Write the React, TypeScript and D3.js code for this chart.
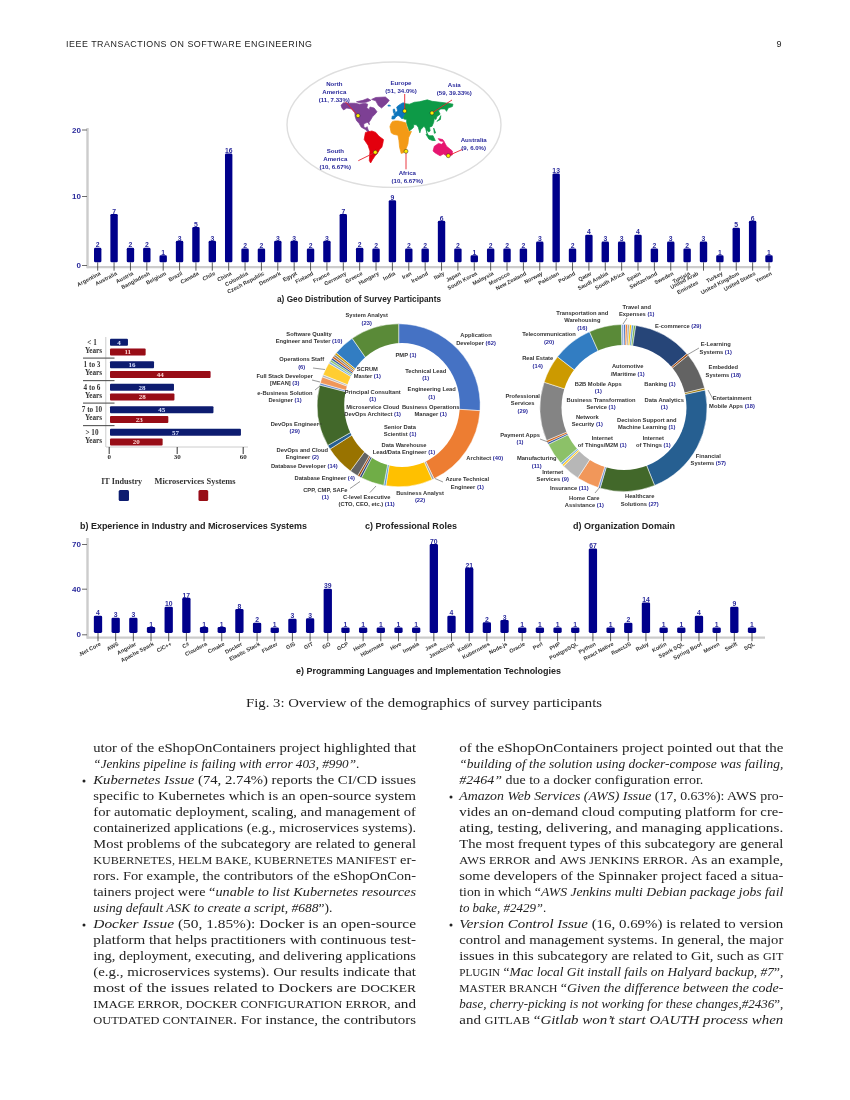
import { useEffect, useRef } from 'react';

import * as d3 from 'd3';

const sans = '"Liberation Sans", Arial, sans-serif';
const serif = '"Liberation Serif", serif';
const navy = '#00008b';
const inkBlue = '#2a2a9c';
const inkDark = '#333333';
const axisGray = '#cccccc';

// a) geo distribution
const countries = ['Argentina', 'Australia', 'Austria', 'Bangladesh', 'Belgium', 'Brazil', 'Canada', 'Chile', 'China', 'Colombia', 'Czech Republic', 'Denmark', 'Egypt', 'Finland', 'France', 'Germany', 'Greece', 'Hungary', 'India', 'Iran', 'Ireland', 'Italy', 'Japan', 'South Korea', 'Malaysia', 'Morocco', 'New Zealand', 'Norway', 'Pakistan', 'Poland', 'Qatar', 'Saudi Arabia', 'South Africa', 'Spain', 'Switzerland', 'Sweden', 'Tunisia', 'United Arab|Emirates', 'Turkey', 'United Kingdom', 'United States', 'Yemen'];
const countryCounts = [2, 7, 2, 2, 1, 3, 5, 3, 16, 2, 2, 3, 3, 2, 3, 7, 2, 2, 9, 2, 2, 6, 2, 1, 2, 2, 2, 3, 13, 2, 4, 3, 3, 4, 2, 3, 2, 3, 1, 5, 6, 1];
// bar tops as read against the axis (they sit a little above the printed count)
const countryBars = [2.5, 7.4, 2.5, 2.5, 1.4, 3.5, 5.5, 3.5, 16.4, 2.4, 2.4, 3.5, 3.5, 2.4, 3.5, 7.4, 2.5, 2.4, 9.4, 2.4, 2.4, 6.4, 2.4, 1.4, 2.4, 2.4, 2.4, 3.4, 13.4, 2.4, 4.4, 3.4, 3.4, 4.4, 2.4, 3.4, 2.4, 3.4, 1.4, 5.4, 6.4, 1.4];

// b) experience
const expGroups = ['< 1|Years', '1 to 3|Years', '4 to 6|Years', '7 to 10|Years', '> 10|Years'];
const expSeries = ['IT Industry', 'Microservices Systems'];
const itLabels = [4, 16, 28, 45, 57];
const msLabels = [11, 44, 28, 23, 20];
const itBars = [8.5, 20, 28.8, 46.7, 59.2];
const msBars = [16.3, 45.4, 29, 26.3, 23.8];

// c) professional roles
const roleValues = [62, 40, 1, 22, 1, 11, 1, 1, 4, 14, 2, 29, 1, 3, 1, 6, 1, 1, 1, 1, 1, 1, 10, 23];
// d) organization domain
const domainValues = [1, 1, 1, 1, 1, 1, 29, 1, 18, 1, 57, 27, 1, 11, 9, 1, 1, 11, 1, 1, 29, 14, 20, 16, 1];
const officeColors = ['#4472c4', '#ed7d31', '#a5a5a5', '#ffc000', '#5b9bd5', '#70ad47', '#264478', '#9e480e', '#636363', '#997300', '#255e91', '#43682b', '#698ed0', '#f1975a', '#b7b7b7', '#ffcd33', '#7cafdd', '#8cc168', '#335aa1', '#d26012', '#848484', '#cc9a00', '#327dc2', '#5a8a39', '#8faadc'];

// e) languages
const techs = ['.Net Core', 'AWS', 'Angular', 'Apache Spark', 'C/C++', 'C#', 'Cloudera', 'Cmake', 'Docker', 'Elastic Stack', 'Flutter', 'GIS', 'GIT', 'GO', 'GCP', 'Helm', 'Hibernate', 'Hive', 'Impala', 'Java', 'JavaScript', 'Kotlin', 'Kubernetes', 'Node.js', 'Oracle', 'Perl', 'PHP', 'PostgreSQL', 'Python', 'React Native', 'ReactJS', 'Ruby', 'Kotlin ', 'Spark SQL', 'Spring Boot', 'Maven', 'Swift', 'SQL'];
const techCounts = [4, 3, 3, 1, 10, 17, 1, 1, 8, 2, 1, 3, 3, 39, 1, 1, 1, 1, 1, 70, 4, 21, 2, 3, 1, 1, 1, 1, 67, 1, 2, 14, 1, 1, 4, 1, 9, 1];
// bar tops as read against the axis, the printed counts do not follow it
const techBars = [16.3, 14.6, 14.6, 6.4, 24.2, 32, 6.4, 6.4, 22.2, 10.2, 6, 13.7, 14, 40, 6, 6, 6, 6, 6, 70, 16.3, 54, 10.5, 12.5, 6, 6, 6, 6, 67, 6, 10.2, 28, 6, 6, 16.3, 6, 24.2, 6];

// map: rough outlines in lon/lat, nudged to the shapes of the source map
const continents: { color: string; shapes: [number, number][][] }[] = [
    { color: '#7d3f94', shapes: [
        [[-168, 66], [-160, 71], [-140, 70], [-125, 70], [-110, 68], [-95, 70], [-85, 68], [-88, 60], [-80, 57], [-78, 62], [-65, 60], [-56, 52], [-65, 45], [-70, 42], [-76, 35], [-81, 30], [-80, 25], [-84, 30], [-90, 29], [-97, 27], [-97, 20], [-90, 18], [-87, 21], [-84, 15], [-78, 8], [-82, 8], [-92, 15], [-105, 20], [-112, 28], [-120, 34], [-124, 42], [-125, 50], [-135, 58], [-150, 60], [-160, 56], [-165, 60]],
        [[-73, 78], [-60, 82], [-30, 83], [-18, 76], [-25, 70], [-42, 60], [-52, 65], [-60, 75]],
        [[-120, 73], [-100, 76], [-85, 80], [-75, 76], [-90, 72], [-110, 71]],
    ] },
    { color: '#e3000f', shapes: [[[-92, 9], [-72, 12], [-60, 9], [-50, 1], [-36, -6], [-38, -14], [-41, -22], [-48, -27], [-55, -35], [-62, -40], [-70, -48], [-76, -55], [-80, -50], [-78, -30], [-84, -18], [-96, -6], [-94, 2]]] },
    { color: '#0a75bc', shapes: [
        [[-10, 37], [-9, 43], [-1, 44], [-4, 48], [3, 51], [8, 54], [6, 59], [5, 62], [14, 67], [25, 71], [31, 69], [30, 60], [33, 50], [30, 45], [26, 40], [22, 37], [18, 40], [12, 44], [8, 44], [2, 41], [-2, 37]],
        [[-5, 50], [1, 51], [-2, 58], [-6, 57]],
        [[-22, 64], [-14, 64], [-16, 66], [-22, 66]],
    ] },
    { color: '#0a9a46', shapes: [
        [[31, 69], [45, 68], [60, 72], [75, 73], [100, 77], [115, 74], [140, 72], [165, 70], [180, 68], [178, 63], [165, 60], [160, 53], [155, 58], [142, 58], [135, 54], [140, 47], [130, 42], [127, 36], [122, 38], [120, 30], [115, 22], [107, 20], [109, 12], [104, 10], [100, 14], [98, 8], [103, 2], [98, 10], [95, 17], [90, 22], [80, 15], [77, 8], [72, 20], [66, 25], [57, 25], [58, 20], [52, 16], [44, 12], [36, 28], [36, 36], [27, 37], [26, 40], [30, 45], [33, 50], [30, 60]],
        [[96, 5], [105, -5], [116, -8], [125, -8], [118, 2], [108, 2]],
        [[130, 32], [141, 36], [142, 44], [137, 37]],
        [[120, 18], [126, 8], [122, 7]],
    ] },
    { color: '#f39a12', shapes: [[[-16, 21], [-13, 27], [-8, 32], [0, 33], [10, 33], [22, 31], [33, 29], [37, 20], [43, 11], [51, 11], [42, -2], [40, -15], [35, -24], [28, -33], [19, -35], [14, -22], [12, -8], [9, 3], [-5, 5], [-12, 8]]] },
    { color: '#e6136f', shapes: [
        [[118, -30], [122, -20], [135, -14], [145, -16], [152, -10], [160, -20], [178, -30], [178, -38], [165, -42], [150, -36], [140, -40], [125, -34]],
        [[134, -4], [148, -6], [152, -10], [140, -9]],
    ] },
];
const regionNames = ['North|America|(11, 7.33%)', 'Europe|(51, 34.0%)', 'Asia|(59, 39.33%)', 'Australia|(9, 6.0%)', 'Africa|(10, 6.67%)', 'South|America|(10, 6.67%)'];

// annotation layout, not data
const regionLayout = [
    { x: 334.3, y: 84, dot: [358, 115.7], end: [345.3, 101.7] },
    { x: 401, y: 82.3, dot: [404.7, 111], end: [404.7, 94] },
    { x: 454.3, y: 84.7, dot: [432, 113], end: [452, 100] },
    { x: 473.7, y: 139.3, dot: [448.3, 155.7], end: [462.7, 149.3] },
    { x: 407.3, y: 172.7, dot: [406, 151.3], end: [406, 169.3] },
    { x: 335.3, y: 151, dot: [375.3, 152.3], end: [358.3, 160.7] },
];
const roleNotes: [string, number, number][] = [
    ['System Analyst|(23)', 366.7, 315.3], ['Application|Developer (62)', 476, 335.3], ['PMP (1)', 406, 355.3],
    ['Software Quality|Engineer and Tester (10)', 309, 334], ['Operations Staff|(6)', 301.7, 359.3], ['SCRUM|Master (1)', 367.3, 368.7],
    ['Technical Lead|(1)', 425.7, 370.7], ['Full Stack Developer|[MEAN] (3)', 284.7, 375.7], ['Engineering Lead|(1)', 431.7, 389.3],
    ['e-Business Solution|Designer (1)', 285, 393], ['Principal Consultant|(1)', 372.7, 391.7], ['Microservice Cloud|DevOps Architect (1)', 372.7, 406.7],
    ['Business Operations|Manager (1)', 430.7, 406.7], ['Senior Data|Scientist (1)', 400, 427], ['DevOps Engineer|(29)', 294.7, 423.7],
    ['Data Warehouse|Lead/Data Engineer (1)', 404, 444.7], ['DevOps and Cloud|Engineer (2)', 302.3, 449.7], ['Architect (40)', 484.7, 458.3],
    ['Database Developer  (14)', 304.3, 466], ['Database Engineer  (4)', 324.7, 478], ['Azure Technical|Engineer (1)', 467.3, 479.3],
    ['CPP, CMP, SAFe|(1)', 325.3, 490], ['Business Analyst|(22)', 420, 493], ['C-level Executive|(CTO, CEO, etc.) (11)', 366.7, 496.7],
];
const domainNotes: [string, number, number][] = [
    ['Travel and|Expenses (1)', 636.7, 306.7], ['Transportation and|Warehousing|(16)', 582.3, 312.7], ['E-commerce (29)', 678.3, 326],
    ['Telecommunication|(20)', 549, 334.3], ['E-Learning|Systems (1)', 715.7, 344.3], ['Real Estate|(14)', 537.7, 358.3],
    ['Automotive|/Maritime (1)', 627.7, 366.3], ['Embedded|Systems (18)', 723.3, 367.3], ['B2B Mobile Apps|(1)', 598.3, 383.7],
    ['Banking (1)', 660, 384.3], ['Professional|Services|(29)', 522.7, 395.7], ['Entertainment|Mobile Apps (18)', 732, 398.3],
    ['Business Transformation|Service (1)', 601, 399.7], ['Data Analytics|(1)', 664.3, 399.7], ['Network|Security (1)', 587.3, 417],
    ['Decision Support and|Machine Learning (1)', 646.7, 419.7], ['Payment Apps|(1)', 520, 435], ['Internet|of Things/M2M (1)', 602.3, 437.7],
    ['Internet|of Things (1)', 653.3, 437.7], ['Financial|Systems (57)', 708.3, 455.7], ['Manufacturing|(11)', 536.7, 458.3],
    ['Internet|Services (9)', 552.7, 471.7], ['Insurance (11)', 569.3, 488.3], ['Home Care|Assistance (1)', 584.3, 497.7],
    ['Healthcare|Solutions (27)', 639.7, 496.3],
];
const roleLeaders = [[313, 368, 325, 369.5], [312, 380, 320, 382], [315, 390, 320, 386], [318, 424, 322, 424], [435, 478.5, 443, 482], [350, 488.5, 360, 481.5], [370, 492.5, 376, 486]];
const domainLeaders = [[623, 324, 627, 318], [687, 355, 699, 348], [708, 390, 713, 399], [540, 439, 548, 442], [595, 493, 600, 487]];

// page text: _italic_ and ^small caps^, width only on short last lines
const leftColumn: { t: string; w?: number; b?: boolean }[] = [
    { t: 'utor of the eShopOnContainers project highlighted that' },
    { t: '_“Jenkins pipeline is failing with error 403, #990”_.', w: 266 },
    { t: '_Kubernetes Issue_ (74, 2.74%) reports the CI/CD issues', b: true },
    { t: 'specific to Kubernetes which is an open-source system' },
    { t: 'for automatic deployment, scaling, and management of' },
    { t: 'containerized applications (e.g., microservices systems).' },
    { t: 'Most problems of the subcategory are related to general' },
    { t: '^KUBERNETES, HELM BAKE, KUBERNETES MANIFEST^ er-' },
    { t: 'rors. For example, the contributors of the eShopOnCon-' },
    { t: 'tainers project were “_unable to list Kubernetes resources_' },
    { t: '_using default ASK to create a script, #688_”).', w: 239 },
    { t: '_Docker Issue_ (50, 1.85%): Docker is an open-source', b: true },
    { t: 'platform that helps practitioners with continuous test-' },
    { t: 'ing, deployment, executing, and delivering applications' },
    { t: '(e.g., microservices systems). Our results indicate that' },
    { t: 'most of the issues related to Dockers are ^DOCKER^' },
    { t: '^IMAGE ERROR, DOCKER CONFIGURATION ERROR,^ and' },
    { t: '^OUTDATED CONTAINER^. For instance, the contributors' },
];
const rightColumn: { t: string; w?: number; b?: boolean }[] = [
    { t: 'of the eShopOnContainers project pointed out that the' },
    { t: '_“building of the solution using docker-compose was failing,_' },
    { t: '_#2464”_ due to a docker configuration error.', w: 244 },
    { t: '_Amazon Web Services (AWS) Issue_ (17, 0.63%): AWS pro-', b: true },
    { t: 'vides an on-demand cloud computing platform for cre-' },
    { t: 'ating, testing, delivering, and managing applications.' },
    { t: 'The most frequent types of this subcategory are general' },
    { t: '^AWS ERROR^ and ^AWS JENKINS ERROR^. As an example,' },
    { t: 'some developers of the Spinnaker project faced a situa-' },
    { t: 'tion in which “_AWS Jenkins multi Debian package jobs fail_' },
    { t: '_to bake, #2429”_.', w: 87 },
    { t: '_Version Control Issue_ (16, 0.69%) is related to version', b: true },
    { t: 'control and management systems. In general, the major' },
    { t: 'issues in this subcategory are related to Git, such as ^GIT^' },
    { t: '^PLUGIN^ “_Mac local Git install fails on Halyard backup, #7_”,' },
    { t: '^MASTER BRANCH^ “_Given the difference between the code-_' },
    { t: '_base, cherry-picking is not working for these changes,#2436_”,' },
    { t: 'and ^GITLAB^ “_Gitlab won’t start OAUTH process when_' },
];

type Sel = d3.Selection<any, unknown, null, undefined>;

// multi-line centred note, trailing "(n)" goes blue
function drawNote(g: Sel, text: string, x: number, y: number, size = 5.75, step = 7.4) {
    text.split('|').forEach((line, i) => {
        const t = g.append('text')
            .attr('x', x)
            .attr('y', y + i * step + 2)
            .attr('text-anchor', 'middle')
            .attr('font-family', sans)
            .attr('font-weight', 700)
            .attr('font-size', size)
            .attr('fill', inkDark);
        const m = line.match(/^(.*?)(\(\d+\))$/);
        if (m) {
            t.append('tspan').text(m[1]);
            t.append('tspan').attr('fill', inkBlue).text(m[2]);
        } else if (/^\(/.test(line)) {
            t.attr('fill', inkBlue).text(line);
        } else {
            t.text(line);
        }
    });
}

function drawColumns(g: Sel, rows: { t: string; w?: number; b?: boolean }[], x: number, width: number, bulletX: number) {
    rows.forEach((row, i) => {
        const y = 752.3 + i * 16;
        const t = g.append('text')
            .attr('x', x)
            .attr('y', y)
            .attr('font-family', serif)
            .attr('font-size', 13)
            .attr('fill', '#222')
            .attr('textLength', row.w ?? width)
            .attr('lengthAdjust', 'spacingAndGlyphs');
        row.t.split(/(_[^_]+_|\^[^^]+\^)/).filter(Boolean).forEach((part) => {
            if (part[0] === '_') t.append('tspan').attr('font-style', 'italic').text(part.slice(1, -1));
            else if (part[0] === '^') t.append('tspan').attr('font-size', 10.8).text(part.slice(1, -1));
            else t.append('tspan').text(part);
        });
        if (row.b) g.append('circle').attr('cx', bulletX).attr('cy', y - 3.2).attr('r', 1.5).attr('fill', '#222');
    });
}

function drawBarChart(g: Sel, cats: string[], counts: number[], bars: number[], opts: { x: [number, number]; yDomain: number[]; yRange: number[]; floor: number; base: number; barWidth: number; top: number; right: number }) {
    const x = d3.scalePoint<string>().domain(cats).range(opts.x);
    const y = d3.scaleLinear().domain(opts.yDomain).range(opts.yRange);

    // grey frame
    g.append('line').attr('x1', 87.5).attr('x2', 87.5).attr('y1', opts.top).attr('y2', opts.floor + 1).attr('stroke', axisGray).attr('stroke-width', 2.4);
    g.append('line').attr('x1', 87).attr('x2', opts.right).attr('y1', opts.floor).attr('y2', opts.floor).attr('stroke', axisGray).attr('stroke-width', 2.2);

    const yAxis = d3.axisLeft(y).tickValues(opts.yDomain).tickSize(5).tickPadding(1);
    g.append('g')
        .attr('transform', 'translate(87, 0)')
        .call(yAxis)
        .call((a: Sel) => a.select('.domain').remove())
        .call((a: Sel) => a.selectAll('.tick line').attr('stroke', '#444').attr('stroke-width', 0.8))
        .call((a: Sel) => a.selectAll('.tick text').attr('font-family', sans).attr('font-weight', 700).attr('font-size', 8).attr('fill', inkBlue));

    g.selectAll('.stem').data(cats).enter().append('line')
        .attr('x1', (d) => x(d as string)!)
        .attr('x2', (d) => x(d as string)!)
        .attr('y1', opts.base)
        .attr('y2', opts.floor + 3.5)
        .attr('stroke', '#333')
        .attr('stroke-width', 0.8);

    g.selectAll('.bar').data(cats).enter().append('rect')
        .attr('x', (d) => x(d as string)! - opts.barWidth / 2)
        .attr('y', (_, i) => y(bars[i]))
        .attr('width', opts.barWidth)
        .attr('height', (_, i) => opts.base - y(bars[i]))
        .attr('rx', 1.4)
        .attr('fill', navy);

    g.selectAll('.count').data(cats).enter().append('text')
        .attr('x', (d) => x(d as string)!)
        .attr('y', (_, i) => y(bars[i]) - 0.3)
        .attr('text-anchor', 'middle')
        .attr('font-family', sans)
        .attr('font-weight', 700)
        .attr('font-size', 6.8)
        .attr('fill', inkBlue)
        .text((_, i) => counts[i]);

    cats.forEach((c) => {
        const lines = c.trim().split('|');
        // two-line labels sit left of their tick, second line right below the first
        const px = x(c)! + (lines.length > 1 ? -6 : 2);
        const py = opts.floor + 5;
        lines.forEach((line, i) => {
            g.append('text')
                .attr('transform', `translate(${px}, ${py + i * 9}) rotate(-28)`)
                .attr('text-anchor', 'end')
                .attr('dy', '0.5em')
                .attr('font-family', sans)
                .attr('font-weight', 700)
                .attr('font-size', 5.5)
                .attr('fill', inkDark)
                .text(line);
        });
    });
}

function drawDonut(g: Sel, values: number[], cx: number, cy: number, outer: number, hole: { cx: number; cy: number; rx: number; ry: number }) {
    const pie = d3.pie<number>().sort(null)(values);
    const arc = d3.arc<d3.PieArcDatum<number>>().innerRadius(outer * 0.5).outerRadius(outer);
    g.append('g')
        .attr('transform', `translate(${cx}, ${cy})`)
        .selectAll('path')
        .data(pie)
        .enter()
        .append('path')
        .attr('d', arc as any)
        .attr('fill', (_, i) => officeColors[i % officeColors.length])
        .attr('stroke', '#fff')
        .attr('stroke-width', 0.5);
    // the hole is not quite centred in the source picture
    g.append('ellipse').attr('cx', hole.cx).attr('cy', hole.cy).attr('rx', hole.rx).attr('ry', hole.ry).attr('fill', '#fff');
}

export default function App() {
    const ref = useRef<SVGSVGElement>(null);
    const rendered = useRef(true);

    useEffect(() => {
        if (!rendered.current) {
            return;
        }
        rendered.current = false;

        const stage = d3.select(ref.current) as unknown as Sel;
        stage.selectAll('*').remove();
        stage.append('rect').attr('width', 850).attr('height', 1100).attr('fill', '#fff');

        // the reference is a soft scan, take the edge off everything
        stage.append('defs')
            .append('filter')
            .attr('id', 'soft')
            .attr('filterUnits', 'userSpaceOnUse')
            .attr('x', 0)
            .attr('y', 0)
            .attr('width', 850)
            .attr('height', 1100)
            .append('feGaussianBlur')
            .attr('stdDeviation', 0.3);
        const svg = stage.append('g').attr('filter', 'url(#soft)');

        // page head
        svg.append('text').attr('x', 66).attr('y', 46.5).attr('font-family', sans).attr('font-size', 8.9).attr('fill', '#222').attr('textLength', 246).text('IEEE TRANSACTIONS ON SOFTWARE ENGINEERING');
        svg.append('text').attr('x', 776.5).attr('y', 46.5).attr('font-family', sans).attr('font-size', 9).attr('fill', '#222').text('9');

        // map
        const map = svg.append('g');
        map.append('ellipse').attr('cx', 394).attr('cy', 124.7).attr('rx', 107).attr('ry', 62.7).attr('fill', '#fff').attr('stroke', '#dedede').attr('stroke-width', 1.4);
        const lon = d3.scaleLinear().domain([-168, 180]).range([341, 453]);
        const lat = d3.scaleLinear().domain([-55, 83]).range([163, 97]);
        const outline = d3.line<[number, number]>().x((d) => lon(d[0])).y((d) => lat(d[1])).curve(d3.curveLinearClosed);
        continents.forEach((c) => {
            c.shapes.forEach((s) => {
                map.append('path').attr('d', outline(s)).attr('fill', c.color).attr('stroke', c.color).attr('stroke-width', 0.7);
            });
        });
        regionLayout.forEach((r, i) => {
            map.append('line').attr('x1', r.dot[0]).attr('y1', r.dot[1]).attr('x2', r.end[0]).attr('y2', r.end[1]).attr('stroke', '#e8212b').attr('stroke-width', 0.9);
            map.append('circle').attr('cx', r.dot[0]).attr('cy', r.dot[1]).attr('r', 2).attr('fill', '#ffee00').attr('stroke', '#222').attr('stroke-width', 0.5);
            regionNames[i].split('|').forEach((line, j) => {
                map.append('text')
                    .attr('x', r.x)
                    .attr('y', r.y + j * 8 + 2.2)
                    .attr('text-anchor', 'middle')
                    .attr('font-family', sans)
                    .attr('font-weight', 700)
                    .attr('font-size', 6.1)
                    .attr('fill', inkBlue)
                    .text(line);
            });
        });

        drawBarChart(svg.append('g'), countries, countryCounts, countryBars, {
            x: [97.7, 769], yDomain: [0, 10, 20], yRange: [265, 196, 129.5], floor: 267.2, base: 262.3, barWidth: 7.4, top: 128, right: 771,
        });

        // b) experience chart
        const exp = svg.append('g');
        const group = d3.scaleBand().domain(expGroups).range([335.8, 448.3]);
        const inner = d3.scaleBand().domain(expSeries).range([0, group.step()]).paddingInner(0.278).paddingOuter(0.3);
        const xExp = d3.scaleLinear().domain([0, 30, 60]).range([108.7, 176.7, 242.7]);
        exp.append('line').attr('x1', 105.8).attr('x2', 105.8).attr('y1', 337).attr('y2', 447).attr('stroke', axisGray).attr('stroke-width', 1);
        exp.append('line').attr('x1', 106).attr('x2', 248).attr('y1', 447).attr('y2', 447).attr('stroke', axisGray).attr('stroke-width', 1);
        exp.append('g')
            .attr('transform', 'translate(0, 447)')
            .call(d3.axisBottom(xExp).tickValues([0, 30, 60]).tickSize(7).tickPadding(0))
            .call((a: Sel) => a.select('.domain').remove())
            .call((a: Sel) => a.selectAll('.tick line').attr('stroke', '#333').attr('stroke-width', 1))
            .call((a: Sel) => a.selectAll('.tick text').attr('font-family', serif).attr('font-weight', 700).attr('font-size', 7).attr('fill', inkDark));

        const expRows = [
            { s: expSeries[0], bars: itBars, labels: itLabels, fill: '#0c1c70', ink: '#d8e0ff' },
            { s: expSeries[1], bars: msBars, labels: msLabels, fill: '#980c12', ink: '#ffd8d8' },
        ];
        expRows.forEach((row) => {
            expGroups.forEach((gr, i) => {
                const y0 = group(gr)! + inner(row.s)!;
                exp.append('rect')
                    .attr('x', 110)
                    .attr('y', y0)
                    .attr('width', xExp(row.bars[i]) - 110)
                    .attr('height', inner.bandwidth())
                    .attr('rx', 1)
                    .attr('fill', row.fill);
                exp.append('text')
                    .attr('x', (110 + xExp(row.bars[i])) / 2)
                    .attr('y', y0 + 5.8)
                    .attr('text-anchor', 'middle')
                    .attr('font-family', serif)
                    .attr('font-weight', 700)
                    .attr('font-size', 7)
                    .attr('fill', row.ink)
                    .text(row.labels[i]);
            });
        });
        expGroups.forEach((gr, i) => {
            const [a, b] = gr.split('|');
            const yg = group(gr)!;
            const label = exp.append('g').attr('font-family', serif).attr('font-weight', 700).attr('font-size', 7.2).attr('fill', inkDark).attr('text-anchor', 'middle');
            label.append('text').attr('x', 92).attr('y', yg + 8.8).text(a);
            label.append('text').attr('x', 93.5).attr('y', yg + 17).text(b);
            if (i < 4) {
                exp.append('line').attr('x1', 83).attr('x2', 114.5).attr('y1', yg + 22.3).attr('y2', yg + 22.3).attr('stroke', '#555').attr('stroke-width', 1.1);
            }
        });
        exp.append('text').attr('x', 121.7).attr('y', 483.5).attr('text-anchor', 'middle').attr('font-family', serif).attr('font-weight', 700).attr('font-size', 7.8).attr('fill', inkDark).attr('textLength', 41).attr('lengthAdjust', 'spacingAndGlyphs').text(expSeries[0]);
        exp.append('text').attr('x', 195).attr('y', 483.5).attr('text-anchor', 'middle').attr('font-family', serif).attr('font-weight', 700).attr('font-size', 7.8).attr('fill', inkDark).attr('textLength', 81).attr('lengthAdjust', 'spacingAndGlyphs').text(expSeries[1]);
        exp.append('rect').attr('x', 118.7).attr('y', 490).attr('width', 10.3).attr('height', 11).attr('rx', 1.5).attr('fill', '#0c1c70');
        exp.append('rect').attr('x', 198.5).attr('y', 490).attr('width', 9.7).attr('height', 11).attr('rx', 1.5).attr('fill', '#980c12');

        // donuts
        drawDonut(svg, roleValues, 398.7, 405.3, 81.5, { cx: 402, cy: 405, rx: 57.8, ry: 62 });
        drawDonut(svg, domainValues, 623.5, 408, 83.5, { cx: 624, cy: 407.5, rx: 62.5, ry: 62.5 });
        const notes = svg.append('g');
        roleNotes.forEach(([t, x, y]) => drawNote(notes, t, x, y));
        domainNotes.forEach(([t, x, y]) => drawNote(notes, t, x, y));
        roleLeaders.concat(domainLeaders).forEach((l) => {
            notes.append('line').attr('x1', l[0]).attr('y1', l[1]).attr('x2', l[2]).attr('y2', l[3]).attr('stroke', '#333').attr('stroke-width', 0.5);
        });

        drawBarChart(svg.append('g'), techs, techCounts, techBars, {
            x: [98, 752], yDomain: [0, 40, 70], yRange: [634.3, 588.7, 544], floor: 637.7, base: 633, barWidth: 8.3, top: 538, right: 765,
        });

        // captions
        const captions: [string, number, number, number][] = [
            ['a) Geo Distribution of Survey Participants', 277, 302, 164],
            ['b) Experience in Industry and Microservices Systems', 80, 529, 227],
            ['c) Professional Roles', 365, 529, 92],
            ['d) Organization Domain', 573, 529, 102],
            ['e) Programming Languages and Implementation Technologies', 296, 673.5, 265],
        ];
        captions.forEach(([t, x, y, w]) => {
            svg.append('text').attr('x', x).attr('y', y).attr('font-family', sans).attr('font-weight', 700).attr('font-size', 8.4).attr('fill', '#222').attr('textLength', w).attr('lengthAdjust', 'spacingAndGlyphs').text(t);
        });

        svg.append('text').attr('x', 246).attr('y', 707).attr('font-family', serif).attr('font-size', 13).attr('fill', '#222').attr('textLength', 356).attr('lengthAdjust', 'spacingAndGlyphs').text('Fig. 3: Overview of the demographics of survey participants');

        drawColumns(svg.append('g'), leftColumn, 93.3, 322.7, 84);
        drawColumns(svg.append('g'), rightColumn, 459.3, 324, 451);
    }, []);

    return <svg ref={ref} width={850} height={1100} style={{ position: 'absolute', left: 0, top: 0 }} />;
}
